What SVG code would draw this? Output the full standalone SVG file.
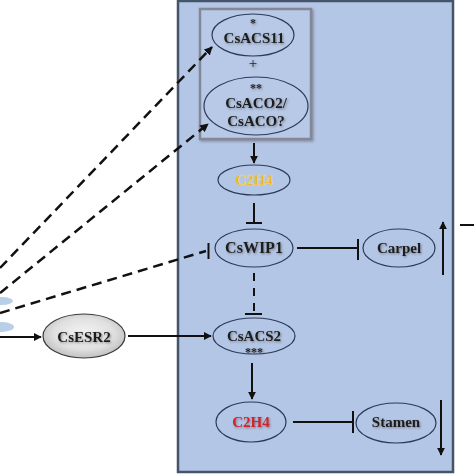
<svg xmlns="http://www.w3.org/2000/svg" width="474" height="474" viewBox="0 0 474 474">
<defs>
<style>
.node{fill:none;stroke:#2b3a58;stroke-width:1.2}
.t{font-family:"Liberation Serif","Times New Roman",serif;font-weight:bold;font-size:15px;fill:#1e1e1e;text-anchor:middle;filter:url(#ts)}
.ast{font-size:12px}
.ln{stroke:#111;stroke-width:2;fill:none}
.dl{stroke:#111;stroke-width:2.5;fill:none;stroke-dasharray:10 6}
</style>
<filter id="ts" x="-20%" y="-40%" width="150%" height="190%">
<feDropShadow dx="1" dy="1.2" stdDeviation="0.8" flood-color="#444" flood-opacity="0.55"/>
</filter>
<filter id="bs" x="-10%" y="-10%" width="130%" height="130%">
<feDropShadow dx="1.5" dy="1.5" stdDeviation="1.2" flood-color="#556" flood-opacity="0.5"/>
</filter>
<radialGradient id="gray" cx="50%" cy="45%" r="60%">
<stop offset="0" stop-color="#f4f4f4"/>
<stop offset="0.6" stop-color="#e0e0e0"/>
<stop offset="1" stop-color="#b8b8b8"/>
</radialGradient>
<marker id="ah" viewBox="0 0 10 10" refX="9" refY="5" markerWidth="4" markerHeight="4" orient="auto" markerUnits="strokeWidth">
<path d="M0,0 L10,5 L0,10 Z" fill="#111"/>
</marker>
<marker id="ahs" viewBox="0 0 10 10" refX="9" refY="5" markerWidth="3.4" markerHeight="3.4" orient="auto" markerUnits="strokeWidth">
<path d="M0,0 L10,5 L0,10 Z" fill="#111"/>
</marker>
</defs>

<rect width="474" height="474" fill="#ffffff"/>

<!-- left partial shapes -->
<ellipse cx="2" cy="301" rx="11" ry="4" fill="#b7cfe8"/>
<ellipse cx="1" cy="327" rx="13" ry="5" fill="#b7cfe8"/>

<!-- big panel -->
<rect id="panel" x="178" y="1" width="275" height="471" fill="#b4c6e6" stroke="#44546a" stroke-width="2.5"/>

<!-- inner group box -->
<rect id="box" x="200" y="9" width="111" height="130" fill="#b7c9e7" stroke="#828895" stroke-width="2.5" filter="url(#bs)"/>

<g id="connectors">
<!-- dashed from left -->
<line class="dl" x1="0" y1="268" x2="212" y2="47" marker-end="url(#ahs)"/>
<line class="dl" x1="0" y1="293" x2="208" y2="124" marker-end="url(#ahs)"/>
<line class="dl" x1="0" y1="313" x2="206" y2="251"/>
<line class="ln" x1="208.5" y1="243" x2="208.5" y2="259"/>
<!-- left to CsESR2 -->
<line class="ln" x1="0" y1="337" x2="41" y2="337" marker-end="url(#ah)"/>
<!-- CsESR2 to CsACS2 -->
<line class="ln" x1="128" y1="336" x2="211" y2="336" marker-end="url(#ah)"/>
<!-- box to C2H4 -->
<line class="ln" x1="254" y1="143" x2="254" y2="163" marker-end="url(#ah)"/>
<!-- C2H4 inhibits CsWIP1 -->
<line class="ln" x1="254" y1="203" x2="254" y2="223"/>
<line class="ln" x1="246" y1="223" x2="262" y2="223"/>
<!-- CsWIP1 inhibits Carpel -->
<line class="ln" x1="297" y1="248" x2="358" y2="248"/>
<line class="ln" x1="358" y1="239" x2="358" y2="260"/>
<!-- CsWIP1 dashed inhibition of CsACS2 -->
<line class="ln" x1="254" y1="273" x2="254" y2="313" stroke-dasharray="8 7"/>
<line class="ln" x1="245" y1="314" x2="262" y2="314"/>
<!-- CsACS2 to C2H4 -->
<line class="ln" x1="252" y1="363" x2="252" y2="399" marker-end="url(#ah)"/>
<!-- C2H4 inhibits Stamen -->
<line class="ln" x1="293" y1="422" x2="353" y2="422"/>
<line class="ln" x1="353" y1="411" x2="353" y2="433"/>
<!-- up / down arrows -->
<line class="ln" x1="443" y1="275" x2="443" y2="222" marker-end="url(#ah)"/>
<line class="ln" x1="441" y1="400" x2="441" y2="455" marker-end="url(#ah)"/>
<!-- right edge line -->
<line class="ln" x1="460" y1="225" x2="474" y2="225"/>
</g>

<g id="CsACS11">
<ellipse class="node" cx="253" cy="35" rx="41" ry="21"/>
<text class="t"><tspan class="ast" x="253" y="27">*</tspan><tspan x="254" y="43">CsACS11</tspan></text>
</g>
<text class="t" x="253" y="68" style="font-weight:normal">+</text>
<g id="CsACO2">
<ellipse class="node" cx="256" cy="106" rx="52" ry="29"/>
<text class="t"><tspan class="ast" x="256" y="92">**</tspan><tspan x="256" y="108">CsACO2/</tspan><tspan x="256" y="126">CsACO?</tspan></text>
</g>
<g id="C2H4_yellow">
<ellipse class="node" cx="254" cy="180" rx="36" ry="15"/>
<text class="t" x="254" y="185" style="fill:#e2b21e;filter:none;stroke:#f2d37a;stroke-width:0.6">C2H4</text>
</g>
<g id="CsWIP1">
<ellipse class="node" cx="254" cy="248" rx="39" ry="19"/>
<text class="t" x="254" y="253" style="font-size:16px">CsWIP1</text>
</g>
<g id="Carpel">
<ellipse class="node" cx="399" cy="248" rx="36" ry="19"/>
<text class="t" x="399" y="253">Carpel</text>
</g>
<g id="CsESR2">
<ellipse cx="84" cy="336" rx="41" ry="22" fill="url(#gray)" stroke="#3a3a3a" stroke-width="1.2"/>
<text class="t" x="84" y="342">CsESR2</text>
</g>
<g id="CsACS2">
<ellipse class="node" cx="254" cy="336" rx="41" ry="18"/>
<text class="t"><tspan x="254" y="341">CsACS2</tspan><tspan class="ast" x="254" y="356">***</tspan></text>
</g>
<g id="C2H4_red">
<ellipse class="node" cx="251" cy="422" rx="35" ry="20"/>
<text class="t" x="251" y="427" style="fill:#d4202a">C2H4</text>
</g>
<g id="Stamen">
<ellipse class="node" cx="396" cy="423" rx="40" ry="20"/>
<text class="t" x="396" y="427">Stamen</text>
</g>
</svg>
